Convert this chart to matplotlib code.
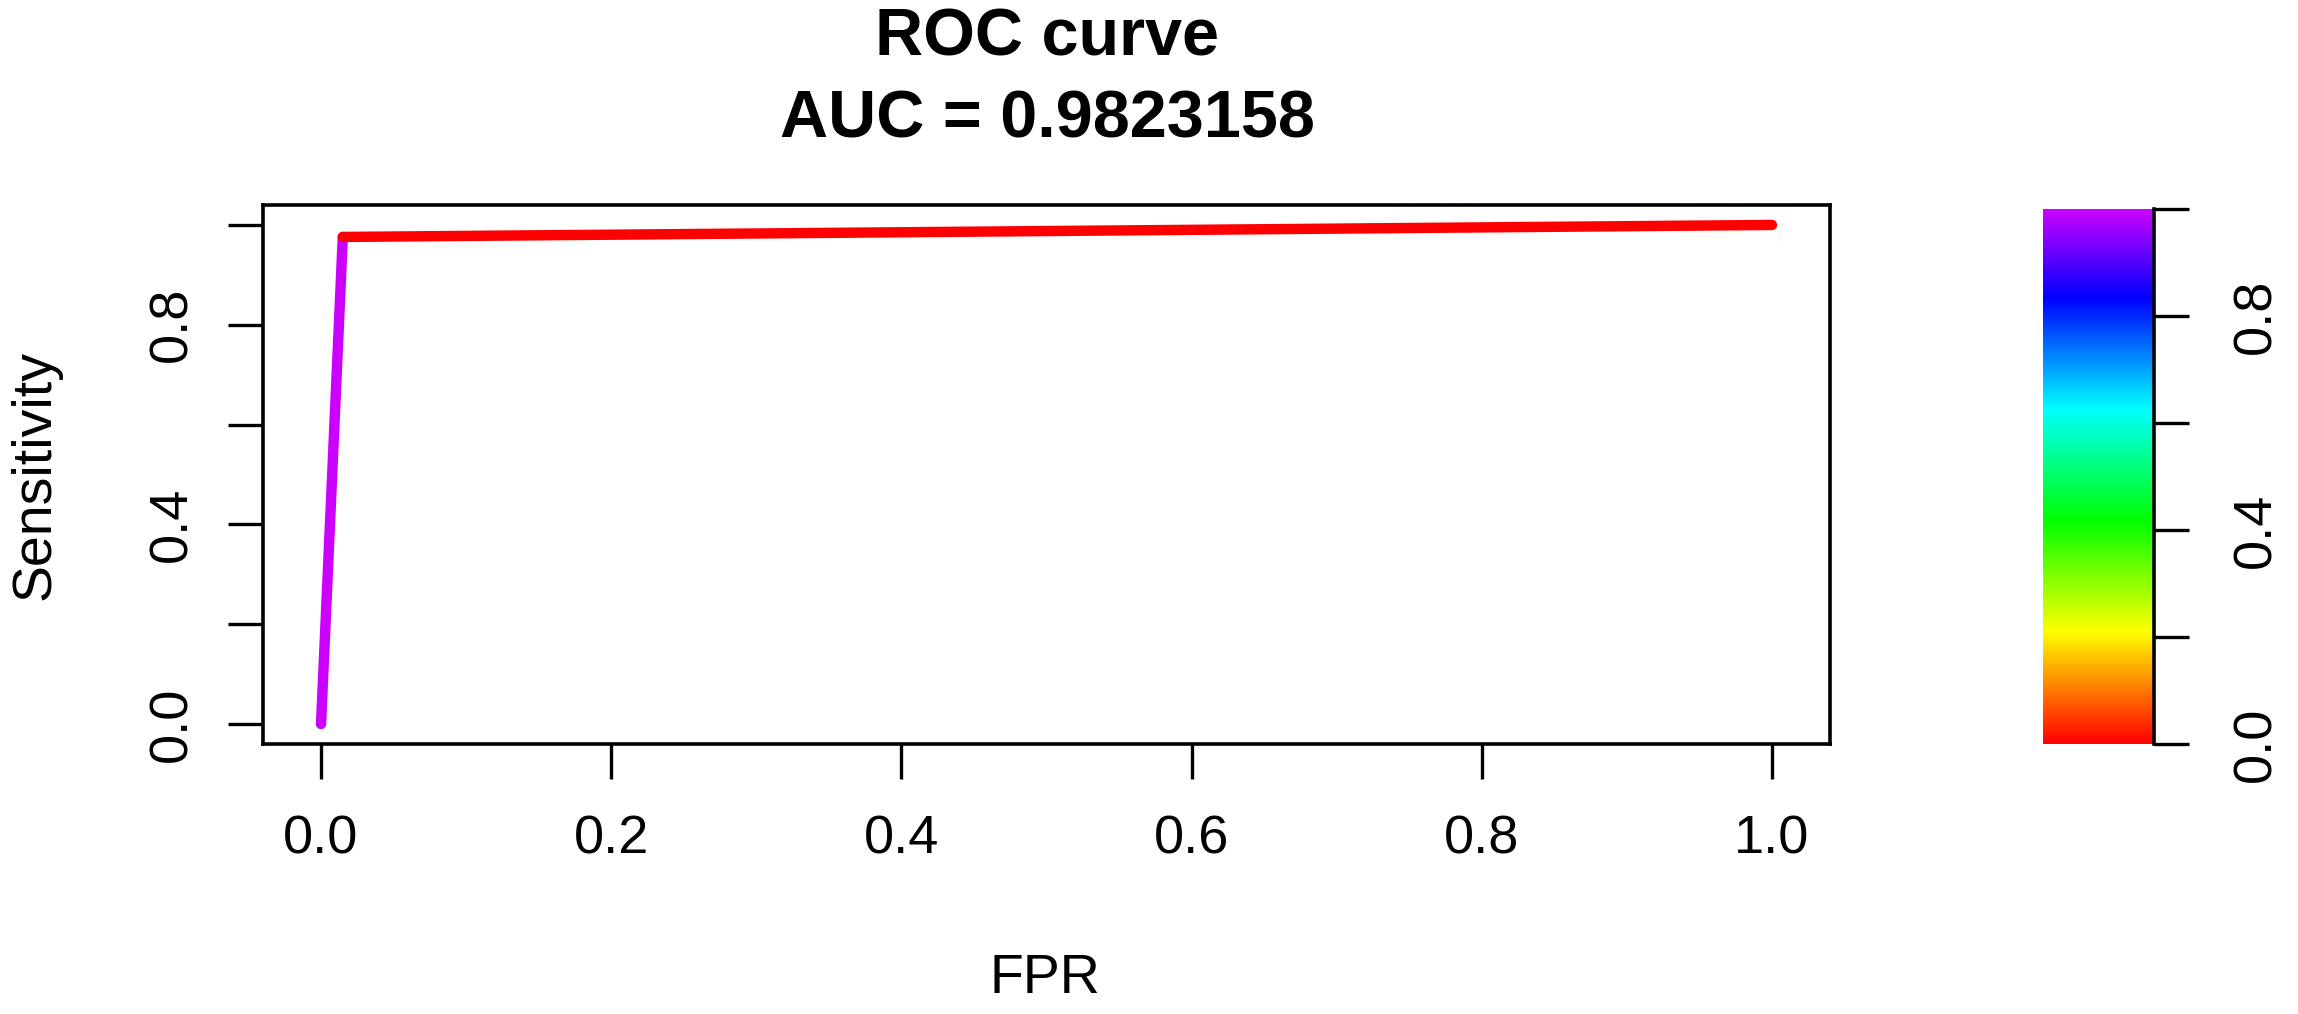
import matplotlib.pyplot as plt
import numpy as np
from matplotlib.collections import LineCollection
from matplotlib.colors import ListedColormap, Normalize, hsv_to_rgb

plt.rcParams['font.family'] = ['Liberation Sans', 'DejaVu Sans']

# ROC curve points
fpr = [0.0, 0.015, 1.0]
tpr = [0.0, 0.976, 1.0]
seg_cutoff = [1.0, 0.0]   # cutoff that colours each segment
auc = 0.9823158

x_ticks = [0.0, 0.2, 0.4, 0.6, 0.8, 1.0]
x_labels = ['0.0', '0.2', '0.4', '0.6', '0.8', '1.0']
y_ticks = [0.0, 0.2, 0.4, 0.6, 0.8, 1.0]
y_labels = ['0.0', '', '0.4', '', '0.8', '']

# rainbow palette red -> magenta, like R's colorize
hues = np.linspace(0, 0.8, 256)
rainbow = ListedColormap(hsv_to_rgb(np.column_stack([hues, np.ones(256), np.ones(256)])))
norm = Normalize(0, 1)

W, H = 2298, 1014
fig = plt.figure(figsize=(W / 100, H / 100), dpi=100)


def px(l, t, r, b):
    # pixel box -> figure fraction
    return [l / W, 1 - b / H, (r - l) / W, (b - t) / H]


ax = fig.add_axes(px(263, 205, 1830, 744))
pts = np.column_stack([fpr, tpr])
segs = np.stack([pts[:-1], pts[1:]], axis=1)
lc = LineCollection(segs, cmap=rainbow, norm=norm, linewidths=7.5,
                    capstyle='round', joinstyle='round')
lc.set_array(np.array(seg_cutoff))
ax.add_collection(lc)
ax.set_xlim(-0.04, 1.04)
ax.set_ylim(-0.04, 1.04)
ax.set_xticks(x_ticks)
ax.set_xticklabels(x_labels)
ax.set_yticks(y_ticks)
ax.set_yticklabels(y_labels, rotation=90, va='center')
for s in ax.spines.values():
    s.set_linewidth(2.6)
ax.tick_params(direction='out', length=25, width=2.4, labelsize=39)
ax.tick_params(axis='x', pad=26)
ax.tick_params(axis='y', pad=22)

# colour key
cax = fig.add_axes(px(2043, 209, 2154, 744))
cax.imshow(np.linspace(0, 1, 256).reshape(-1, 1), cmap=rainbow, norm=norm,
           aspect='auto', origin='lower', extent=[0, 1, 0, 1])
cax.set_xlim(0, 1)
cax.set_ylim(0, 1)
for side in ['top', 'left', 'bottom']:
    cax.spines[side].set_visible(False)
cax.spines['right'].set_linewidth(2.6)
cax.set_xticks([])
cax.yaxis.tick_right()
cax.set_yticks(y_ticks)
cax.set_yticklabels(y_labels, rotation=90, va='center')
cax.tick_params(direction='out', length=25, width=2.4, labelsize=39, pad=31)

fig.text(1047 / W, 1 - 56 / H, 'ROC curve', ha='center', va='baseline',
         fontsize=48, fontweight='bold')
fig.text(1047 / W, 1 - 137 / H, f'AUC = {auc}', ha='center', va='baseline',
         fontsize=48, fontweight='bold')
fig.text(1045 / W, 1 - 993 / H, 'FPR', ha='center', va='baseline', fontsize=40)
fig.text(36 / W, 1 - 475 / H, 'Sensitivity', ha='center', va='center',
         rotation=90, fontsize=40)

fig.savefig('out.png', dpi=100)
